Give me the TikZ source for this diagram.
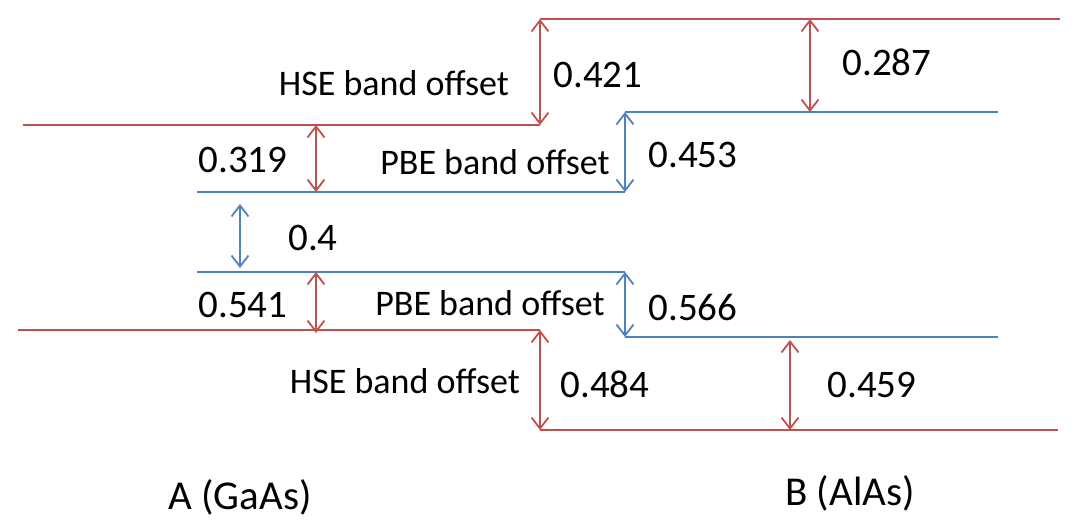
\documentclass[tikz,border=0pt]{standalone}
\usepackage{fontspec}
\setmainfont{Carlito}
\usetikzlibrary{arrows.meta}
\definecolor{hse}{HTML}{C0504D}
\definecolor{pbe}{HTML}{4F81BD}
\tikzset{
  hseline/.style={draw=hse, line width=1.8pt},
  pbeline/.style={draw=pbe, line width=1.8pt},
  dbl/.style={{Straight Barb[length=11pt,width=17pt,line width=1.8pt]}-{Straight Barb[length=11pt,width=17pt,line width=1.8pt]}, line width=1.8pt},
  hsearr/.style={dbl, draw=hse},
  pbearr/.style={dbl, draw=pbe},
  num/.style={font=\fontsize{39}{44}\selectfont, inner sep=0pt},
  lbl/.style={font=\fontsize{36}{40}\selectfont, inner sep=0pt},
  mat/.style={font=\fontsize{41}{46}\selectfont, inner sep=0pt},
}
\begin{document}
\begin{tikzpicture}[x=1pt, y=-1pt]
\useasboundingbox (0,0) rectangle (1080,525);
% HSE levels
\coordinate (hA1) at (23,125);   \coordinate (hA1e) at (540,125);
\coordinate (hB1) at (540,19);   \coordinate (hB1e) at (1060,19);
\coordinate (hA2) at (18,330);   \coordinate (hA2e) at (540,330);
\coordinate (hB2) at (540,430);  \coordinate (hB2e) at (1058,430);
% PBE levels
\coordinate (pA1) at (197,192);  \coordinate (pA1e) at (625,192);
\coordinate (pB1) at (625,112);  \coordinate (pB1e) at (998,112);
\coordinate (pA2) at (197,272);  \coordinate (pA2e) at (625,272);
\coordinate (pB2) at (625,337);  \coordinate (pB2e) at (998,337);
\draw[hseline] (hA1) -- (hA1e);
\draw[hseline] (hB1) -- (hB1e);
\draw[hseline] (hA2) -- (hA2e);
\draw[hseline] (hB2) -- (hB2e);
\draw[pbeline] (pA1) -- (pA1e);
\draw[pbeline] (pB1) -- (pB1e);
\draw[pbeline] (pA2) -- (pA2e);
\draw[pbeline] (pB2) -- (pB2e);
% arrow end points
\coordinate (a421t) at (540,19);  \coordinate (a421b) at (540,125);
\coordinate (a287t) at (810,19);  \coordinate (a287b) at (810,112);
\coordinate (a319t) at (316,125); \coordinate (a319b) at (316,192);
\coordinate (a453t) at (625,112); \coordinate (a453b) at (625,192);
\coordinate (a4t) at (240,204);   \coordinate (a4b) at (240,268);
\coordinate (a541t) at (316,272); \coordinate (a541b) at (316,333);
\coordinate (a566t) at (625,272); \coordinate (a566b) at (625,337);
\coordinate (a484t) at (540,330); \coordinate (a484b) at (540,430);
\coordinate (a459t) at (790,340); \coordinate (a459b) at (790,430);
\draw[hsearr] (a421t) -- (a421b);
\draw[hsearr] (a287t) -- (a287b);
\draw[hsearr] (a319t) -- (a319b);
\draw[pbearr] (a453t) -- (a453b);
\draw[pbearr] (a4t) -- (a4b);
\draw[hsearr] (a541t) -- (a541b);
\draw[pbearr] (a566t) -- (a566b);
\draw[hsearr] (a484t) -- (a484b);
\draw[hsearr] (a459t) -- (a459b);
% labels
\node[lbl] (hse1) at (394,83) {HSE band offset};
\node[lbl] (pbe1) at (495,162) {PBE band offset};
\node[lbl] (pbe2) at (490,303) {PBE band offset};
\node[lbl] (hse2) at (405,381) {HSE band offset};
\node[num] (n421) at (598,75) {0.421};
\node[num] (n287) at (887,62) {0.287};
\node[num] (n319) at (243,160) {0.319};
\node[num] (n453) at (693,155) {0.453};
\node[num] (n4) at (313,238) {0.4};
\node[num] (n541) at (243,305) {0.541};
\node[num] (n566) at (693,307) {0.566};
\node[num] (n484) at (605,384) {0.484};
\node[num] (n459) at (872,385) {0.459};
\node[mat] (gaas) at (240,497) {A (GaAs)};
\node[mat] (alas) at (850,493) {B (AlAs)};
\end{tikzpicture}
\end{document}
